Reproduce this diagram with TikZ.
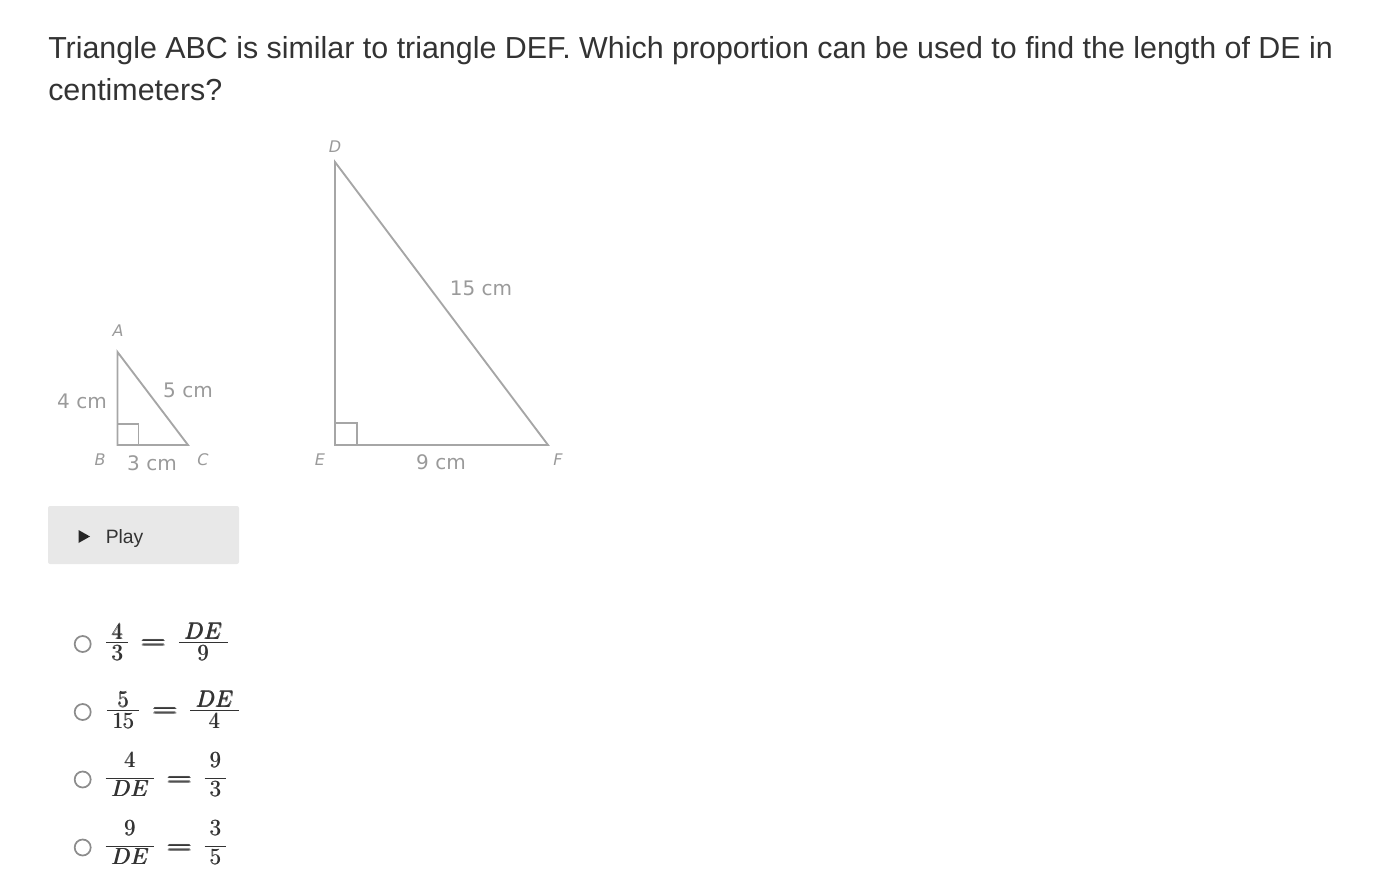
\documentclass[tikz,border=0pt]{standalone}
\usepackage[no-math]{fontspec}
\usepackage{amsmath}
\setmainfont{Liberation Sans}
\newfontfamily\labelfont{DejaVu Sans}
\definecolor{txt}{HTML}{333333}
\definecolor{edge}{HTML}{A6A6A6}
\definecolor{lbl}{HTML}{9A9A9A}
\definecolor{btn}{HTML}{E8E8E8}
\definecolor{ring}{HTML}{8C8C8C}
% fraction as the answer choices show it (optional: extra gap under the numerator)
\newcommand{\fr}[3][0]{\pmb{\frac{\textstyle\mkern4mu\rule[-#1em]{0pt}{0pt}#2\mkern4mu}{\textstyle\mkern4mu\rule{0pt}{0.77em}#3\mkern4mu}}}
\newcommand{\eqsign}{\scalebox{1.5}[1.1]{$\pmb{=}$}}
\begin{document}
\begin{tikzpicture}[x=0.75pt, y=-0.75pt,
    side/.style={draw=edge, line width=1.4pt, line join=miter},
    vlabel/.style={font=\labelfont\itshape\fontsize{12}{14}\selectfont, text=lbl, inner sep=0},
    len/.style={font=\labelfont\fontsize{15}{18}\selectfont, text=lbl, inner sep=0},
    radio/.style={draw=ring, line width=1.3pt, circle, minimum size=12pt, inner sep=0},
    eq/.style={font=\fontsize{16}{19}\selectfont, text=txt, inner sep=0, anchor=base}]
\useasboundingbox (0,0) rectangle (1389,896);
% question
\node[anchor=base west, inner sep=0, text=txt, font=\fontsize{22.8}{27}\selectfont] (q1) at (48,58) {Triangle ABC is similar to triangle DEF. Which proportion can be used to find the length of DE in};
\node[anchor=base west, inner sep=0, text=txt, font=\fontsize{22.8}{27}\selectfont] (q2) at (48,100) {centimeters?};
% small triangle
\coordinate (A) at (117.5,352);
\coordinate (B) at (117.5,445);
\coordinate (C) at (188,445);
\draw[side] (A) -- (B) -- (C) -- cycle;
\draw[side] (117.5,424) -- (138.5,424) -- (138.5,445);
\node[vlabel] (la) at (118,331) {A};
\node[vlabel] (lb) at (100,460) {B};
\node[vlabel] (lc) at (203,460) {C};
\node[len] (l4) at (82,401) {4 cm};
\node[len] (l5) at (188,390) {5 cm};
\node[len] (l3) at (152,463) {3 cm};
% large triangle
\coordinate (D) at (335,162);
\coordinate (E) at (335,445);
\coordinate (F) at (548,445);
\draw[side] (D) -- (E) -- (F) -- cycle;
\draw[side] (335,423) -- (357,423) -- (357,445);
\node[vlabel] (ld) at (335,147) {D};
\node[vlabel] (le) at (320,460) {E};
\node[vlabel] (lf) at (558,460) {F};
\node[len] (l15) at (481,288) {15 cm};
\node[len] (l9) at (441,462) {9 cm};
% play button
\fill[btn, rounded corners=1.5pt] (48,506) rectangle (239,564);
\fill[black!85] (78.5,530) -- (90,536.5) -- (78.5,543) -- cycle;
\node[anchor=west, inner sep=0, text=txt, font=\fontsize{14.5}{17}\selectfont] (play) at (105.5,538) {Play};
% answer choices
\node[radio] (r1) at (82.7,644) {};
\node[radio] (r2) at (82.7,712) {};
\node[radio] (r3) at (82.7,779.5) {};
\node[radio] (r4) at (82.7,847.5) {};
\node[eq] (a1l) at (117.8,648.6) {$\fr{4}{3}$};
\node[eq] (a1e) at (154,649.6) {\eqsign};
\node[eq] (a1r) at (203.7,648.6) {$\fr{DE}{9}$};
\node[eq] (a2l) at (123.7,716.6) {$\fr{5}{15}$};
\node[eq] (a2e) at (165.7,717.6) {\eqsign};
\node[eq] (a2r) at (215,716.6) {$\fr{DE}{4}$};
\node[eq] (a3l) at (130.5,784.6) {$\fr[0.45]{4}{DE}$};
\node[eq] (a3e) at (180,786) {\eqsign};
\node[eq] (a3r) at (216,784.6) {$\fr[0.45]{9}{3}$};
\node[eq] (a4l) at (130.5,852.6) {$\fr[0.45]{9}{DE}$};
\node[eq] (a4e) at (180,854) {\eqsign};
\node[eq] (a4r) at (216,852.6) {$\fr[0.45]{3}{5}$};
\end{tikzpicture}
\end{document}
